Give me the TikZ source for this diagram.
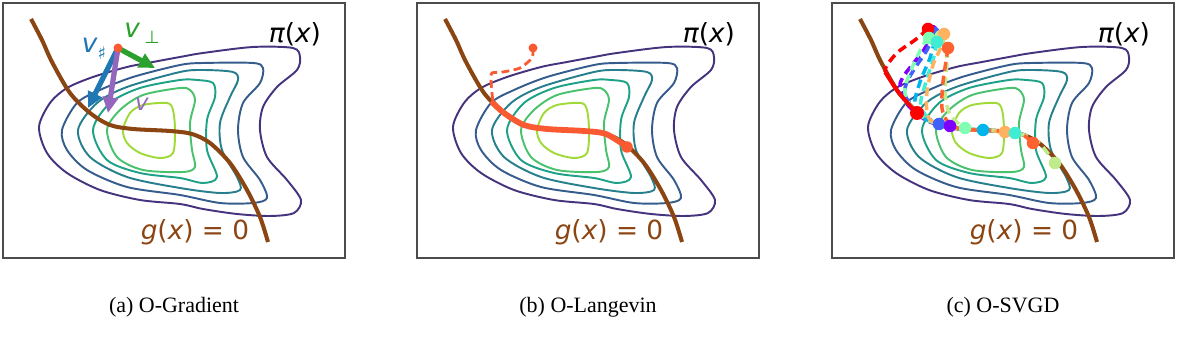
\documentclass[tikz,border=0pt]{standalone}
\usepackage{fontspec}
\setmainfont{Liberation Serif}
\newfontfamily\plotfont{DejaVu Sans}
\usetikzlibrary{arrows.meta}
\definecolor{vir1}{HTML}{46337E}
\definecolor{vir2}{HTML}{365C8D}
\definecolor{vir3}{HTML}{277F8E}
\definecolor{vir4}{HTML}{1FA187}
\definecolor{vir5}{HTML}{4AC16D}
\definecolor{vir6}{HTML}{A0DA39}
\definecolor{gbrown}{HTML}{8B4513}
\definecolor{ptorange}{HTML}{FA5A32}
\definecolor{vblue}{HTML}{1F77B4}
\definecolor{vgreen}{HTML}{2CA02C}
\definecolor{vpurple}{HTML}{9467BD}
\definecolor{rb1}{HTML}{8000FF}
\definecolor{rb2}{HTML}{4062FA}
\definecolor{rb3}{HTML}{00B5EB}
\definecolor{rb4}{HTML}{40ECD4}
\definecolor{rb5}{HTML}{80FFB4}
\definecolor{rb6}{HTML}{C0EB8D}
\definecolor{rb7}{HTML}{FFB360}
\definecolor{rb8}{HTML}{FF6230}
\definecolor{rb9}{HTML}{FF0000}

\tikzset{
    isoline/.style={line width=1.1pt},
    gcurve/.style={draw=gbrown, line width=2.3pt},
    pdot/.style={circle, fill=#1, inner sep=0pt, minimum size=0.25cm},
    traj/.style={draw=#1, line width=2pt, dash pattern=on 5pt off 3pt},
    vec/.style={line width=3pt, -{Triangle[length=9pt, width=8.5pt]}},
    lbl/.style={font=\plotfont\fontsize{15}{18}\selectfont},
    caption/.style={font=\fontsize{12.5}{15}\selectfont},
}

\newcommand\pv[1]{{\itshape #1}}
% frame, level sets of pi(x) and the constraint curve, shared by the panels
\newcommand\drawpanel[1]{%
    \draw[gray!60!black, line width=0.7pt] (3,3) rectangle (345,258);
    \draw[isoline, vir1] plot[smooth cycle] coordinates {(39,127) (50,103)
        (67,88) (93,77) (127,67) (153,62) (180,57) (203,53) (253,47) (293,48)
        (300,57) (297,70) (277,87) (263,107) (260,130) (267,157) (287,180)
        (301,200) (294,213) (270,216) (237,214) (203,209) (180,204) (140,200)
        (100,190) (67,173) (47,153)};
    \draw[isoline, vir2] plot[smooth cycle] coordinates {(62,130) (77,103)
        (100,90) (133,77) (180,65) (203,63) (253,63) (263,68) (260,83)
        (243,103) (238,130) (243,157) (260,180) (267,198) (253,203) (220,203)
        (180,195) (127,187) (87,170) (67,150)};
    \draw[isoline, vir3] plot[smooth cycle] coordinates {(78,130) (97,103)
        (127,87) (180,72) (203,70) (233,72) (238,80) (230,97) (220,123)
        (222,150) (237,177) (240,190) (220,193) (180,188) (127,177) (90,157)};
    \draw[isoline, vir4] plot[smooth cycle] coordinates {(93,130) (110,103)
        (140,88) (180,80) (197,80) (213,83) (215,97) (207,120) (207,150)
        (217,177) (203,183) (180,178) (140,173) (107,160)};
    \draw[isoline, vir5] plot[smooth cycle] coordinates {(107,130) (120,110)
        (143,95) (180,88) (190,90) (195,100) (190,123) (192,150) (195,167)
        (183,172) (143,170) (117,157)};
    \draw[isoline, vir6] plot[smooth cycle] coordinates {(123,130) (130,113)
        (143,105) (167,103) (173,110) (175,130) (173,153) (160,158) (140,153)
        (127,143)};
    \draw[gcurve] plot[smooth] coordinates {(31,19) (42,40) (52,62) (70,93)
        (90,113) (110,125) (133,129) (170,131) (192,134) (210,143) (230,163)
        (247,190) (260,217) (268,242)};
    \node[lbl] (pi#1) at (295,34) {\pv{π}(\pv{x})};
    \node[lbl, text=gbrown] (g#1) at (195,232) {\pv{g}(\pv{x}) = 0};
}

\begin{document}
\begin{tikzpicture}[x=0.02cm, y=-0.02cm]
    \useasboundingbox (0,0) rectangle (1180,340);

    % (a) gradient step split into two parts
    \drawpanel{A}
    \coordinate (xA) at (118,48);
    \coordinate (vsharp) at (88,108);
    \coordinate (vfull) at (108,113);
    \coordinate (vperp) at (155,68);
    \draw[vec, vblue] (xA) -- (vsharp);
    \draw[vec, vpurple] (xA) -- (vfull);
    \draw[vec, vgreen] (xA) -- (vperp);
    \node[pdot=ptorange, minimum size=0.18cm] (dotA) at (xA) {};
    \node[lbl, text=vblue] (lsharp) at (94,49)
        {\pv{v}\raisebox{-0.5ex}{\fontsize{10}{12}\selectfont ♯}};
    \node[lbl, text=vgreen] (lperp) at (142,33)
        {\pv{v}\,\raisebox{-0.4ex}{\fontsize{10}{12}\selectfont ⊥}};
    \node[lbl, text=vpurple, font=\plotfont\fontsize{13}{15}\selectfont]
        (lfull) at (142,104) {\pv{v}};

    % (b) one Langevin path
    \begin{scope}[shift={(414,0)}]
        \drawpanel{B}
        \coordinate (xB0) at (119,48);
        \coordinate (xB1) at (79,103);
        \coordinate (xB2) at (213,147);
        \draw[draw=ptorange, line width=1.6pt, dash pattern=on 4.5pt off 2.5pt]
            plot[smooth, tension=0.4] coordinates {(xB0) (118,58) (106,68)
            (89,72) (78,73) (77,80) (78,93) (xB1)};
        \draw[draw=ptorange, line width=3.3pt] plot[smooth] coordinates
            {(xB1) (90,113) (110,125) (133,129) (170,131) (192,134) (xB2)};
        \node[pdot=ptorange, minimum size=0.18cm] (dotB0) at (xB0) {};
        \node[pdot=ptorange, minimum size=0.12cm] (dotB1) at (xB1) {};
        \node[pdot=ptorange, minimum size=0.23cm] (dotB2) at (xB2) {};
    \end{scope}

    % (c) particles moved together
    \begin{scope}[shift={(829,0)}]
        \drawpanel{C}
        \draw[traj=rb1] plot[smooth] coordinates {(103,31) (96,48) (83,65)
            (74,77) (71,87) (78,104) (95,119) (110,125) (121,126)};
        \draw[traj=rb2] plot[smooth] coordinates {(105,33) (98,50) (86,68)
            (78,82) (76,95) (88,112) (110,124)};
        \draw[traj=rb3] plot[smooth] coordinates {(106,40) (101,58) (91,82)
            (86,105) (100,121) (133,129) (154,130)};
        \draw[traj=rb4] plot[smooth] coordinates {(108,42) (104,60) (96,85)
            (92,108) (110,125) (150,130) (170,131) (186,133)};
        \draw[traj=rb5] plot[smooth] coordinates {(100,38) (94,45) (83,68)
            (76,88) (79,102) (95,118) (115,126) (136,128)};
        \draw[traj=rb6] plot[smooth] coordinates {(112,36) (118,58) (116,90)
            (120,112) (135,127) (170,131) (192,134) (210,143) (226,163)};
        \draw[traj=rb7] plot[smooth] coordinates {(115,34) (113,45) (104,65)
            (98,92) (98,112) (104,122) (133,129) (160,131) (176,132)};
        \draw[traj=rb8] plot[smooth] coordinates {(119,48) (118,55) (114,82)
            (113,108) (119,122) (133,129) (170,131) (192,134) (204,143)};
        \draw[traj=rb9] plot[smooth] coordinates {(99,29) (86,40) (69,52)
            (58,65) (56,72)};
        \draw[draw=rb9, line width=2.2pt] plot[smooth] coordinates {(56,72)
            (70,93) (88,113)};
        % start positions
        \node[pdot=rb1] (s1) at (103,31) {};
        \node[pdot=rb2] (s2) at (105,33) {};
        \node[pdot=rb9] (s9) at (99,29) {};
        \node[pdot=rb3] (s3) at (106,40) {};
        \node[pdot=rb6] (s6) at (112,36) {};
        \node[pdot=rb7] (s7) at (115,34) {};
        \node[pdot=rb5] (s5) at (100,38) {};
        \node[pdot=rb4] (s4) at (108,42) {};
        \node[pdot=rb8] (s8) at (119,48) {};
        % end positions
        \node[pdot=rb2] (e2) at (110,124) {};
        \node[pdot=rb1] (e1) at (121,126) {};
        \node[pdot=rb5] (e5) at (136,128) {};
        \node[pdot=rb3] (e3) at (154,130) {};
        \node[pdot=rb7] (e7) at (176,132) {};
        \node[pdot=rb4] (e4) at (186,133) {};
        \node[pdot=rb8] (e8) at (204,143) {};
        \node[pdot=rb6] (e6) at (226,163) {};
        \node[pdot=rb9, minimum size=0.28cm] (e9) at (88,113) {};
    \end{scope}

    \node[caption] (capA) at (174,307) {(a) O-Gradient};
    \node[caption] (capB) at (588,307) {(b) O-Langevin};
    \node[caption] (capC) at (1003,307) {(c) O-SVGD};
\end{tikzpicture}
\end{document}
